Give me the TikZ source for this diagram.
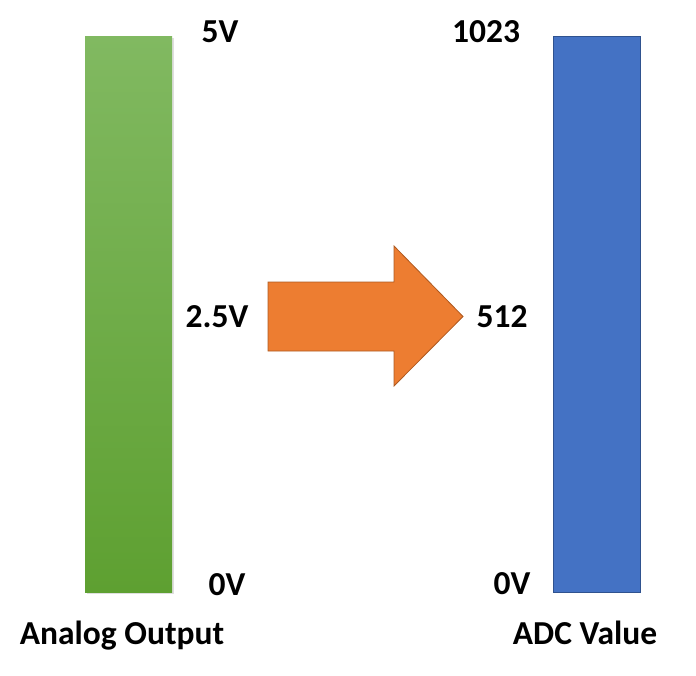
\documentclass[tikz,border=0pt]{standalone}
\usepackage{fontspec}
\setmainfont{Carlito}
\usetikzlibrary{shadows}

\definecolor{greentop}{RGB}{129,185,97}
\definecolor{greenbot}{RGB}{94,160,49}
\definecolor{adcblue}{RGB}{68,114,196}
\definecolor{adcedge}{RGB}{47,82,143}
\definecolor{arroworange}{RGB}{237,125,49}
\definecolor{arrowedge}{RGB}{174,90,33}

\tikzset{
  bar/.style={rectangle, inner sep=0pt, minimum width=87pt, minimum height=556pt},
  lbl/.style={font=\fontsize{33.5}{38}\selectfont\bfseries, anchor=base, inner sep=0pt},
  bigarrow/.style={fill=arroworange, draw=arrowedge, line width=0.8pt, line join=miter}
}

\begin{document}
\begin{tikzpicture}[x=1pt,y=-1pt]
            \useasboundingbox (0,0) rectangle (696,675);
            \path 
            (128.5,314) node[bar, top color=greentop, bottom color=greenbot,
                drop shadow={opacity=0.25, shadow xshift=1.5pt, shadow yshift=-1.5pt}] (analog) {}
            (597,314) node[bar, fill=adcblue, draw=adcedge, line width=1pt] (adc) {};
            % conversion arrow
            \draw[bigarrow] (268,282) -- (394,282) -- (394,246) -- (463,316.5)
                -- (394,386) -- (394,351) -- (268,351) -- cycle;
            \node[lbl] (vhigh) at (220,42) {5V};
            \node[lbl] (vmid) at (217,327) {2.5V};
            \node[lbl] (vlow) at (227,595) {0V};
            \node[lbl] (dhigh) at (486,42) {1023};
            \node[lbl] (dmid) at (502,327) {512};
            \node[lbl] (dlow) at (512,594) {0V};
            \node[lbl] (atitle) at (122,644) {Analog Output};
            \node[lbl] (dtitle) at (585,644) {ADC Value};
            \end{tikzpicture}
\end{document}
